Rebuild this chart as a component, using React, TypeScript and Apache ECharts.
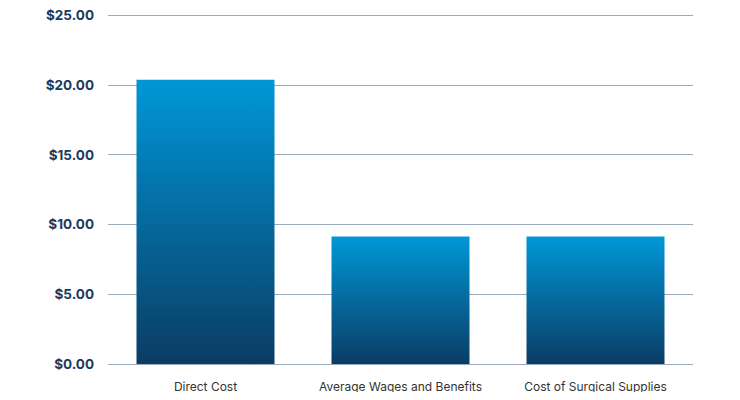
import React, { useEffect, useRef } from "react";
import * as echarts from "echarts";

const categories = ["Direct Cost", "Average Wages and Benefits", "Cost of Surgical Supplies"];
const costValues = [20.37, 9.14, 9.14];
const yTicks = [0, 5, 10, 15, 20, 25];

const App = () => {
  const chartRef = useRef<HTMLDivElement>(null);

  useEffect(() => {
    if (!chartRef.current) return;
    const chart = echarts.init(chartRef.current, null, { renderer: "svg" });

    // div sits at the body's 8px margin, so grid values are offset by 8
    const options = {
      animation: false,
      grid: { left: 100, right: 39, top: 3, bottom: 24, containLabel: false },
      xAxis: {
        type: "category",
        data: categories,
        axisLine: { show: false },
        axisTick: { show: false },
        axisLabel: {
          interval: 0,
          color: "#333333",
          fontFamily: "Inter",
          fontSize: 12,
          margin: 16,
        },
      },
      yAxis: {
        type: "value",
        min: yTicks[0],
        max: yTicks[yTicks.length - 1],
        interval: 5,
        axisLine: { show: false },
        axisTick: { show: false },
        splitLine: { lineStyle: { color: "#9aaabb", width: 1 } },
        axisLabel: {
          color: "#1b3a5c",
          fontFamily: "Inter",
          fontWeight: "bold",
          fontSize: 13.5,
          margin: 14,
          formatter: (v: number) => `$${v.toFixed(2)}`,
        },
      },
      series: [
        {
          type: "bar",
          data: costValues,
          barWidth: 138,
          itemStyle: {
            color: new echarts.graphic.LinearGradient(0, 0, 0, 1, [
              { offset: 0, color: "#0097d7" },
              { offset: 1, color: "#0a3c64" },
            ]),
          },
        },
      ],
    };

    chart.setOption(options);
    return () => chart.dispose();
  }, []);

  return <div ref={chartRef} style={{ width: "724px", height: "384px" }} />;
};

export default App;
